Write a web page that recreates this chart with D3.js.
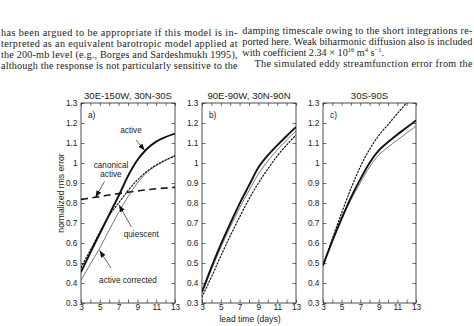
<!DOCTYPE html>
<html><head><meta charset="utf-8">
<script src="https://cdn.jsdelivr.net/npm/d3@7"></script>
<style>body{margin:0;background:#fff}svg{display:block}</style>
</head><body><svg id="c" width="474" height="326"></svg>
<script>
// ---- data ----
const days = [3,4,5,6,7,8,9,10,11,12,13];
const yTicks = [0.3,0.4,0.5,0.6,0.7,0.8,0.9,1,1.1,1.2,1.3];
const xTickLabels = [3,5,7,9,11,13];

const aActive    = [0.455,0.552,0.647,0.742,0.835,0.935,1.015,1.07,1.107,1.13,1.147];
const aCanonical = [0.818,0.825,0.832,0.840,0.847,0.854,0.860,0.866,0.871,0.875,0.878];
const aQuiescent = [0.478,0.565,0.655,0.738,0.800,0.862,0.915,0.958,0.990,1.015,1.035];
const aCorrected = [0.413,0.495,0.575,0.665,0.752,0.832,0.900,0.952,0.987,1.013,1.038];

const bActive    = [0.355,0.478,0.593,0.697,0.797,0.888,0.977,1.038,1.088,1.135,1.18];
const bCorrected = [0.350,0.466,0.578,0.680,0.775,0.862,0.945,1.010,1.065,1.115,1.160];
const bQuiescent = [0.330,0.430,0.535,0.635,0.730,0.820,0.900,0.970,1.035,1.090,1.140];

const cActive    = [0.488,0.610,0.723,0.827,0.918,1.000,1.063,1.105,1.143,1.177,1.213];
const cCorrected = [0.485,0.605,0.715,0.815,0.900,0.980,1.040,1.080,1.115,1.150,1.185];
const cQuiescent = [0.488,0.621,0.750,0.872,0.980,1.068,1.138,1.192,1.248,1.302,1.358];

const panelTitles = ["30E-150W, 30N-30S","90E-90W, 30N-90N","30S-90S"];
const panelLetters = ["a)","b)","c)"];

const annotations = [
  {lines:["active"], day:8.32, val:1.165, from:[8.85,1.115], to:[9.78,1.062]},
  {lines:["canonical","active"], day:6.19, val:0.99, from:[5.5,0.9075], to:[4.54,0.8275]},
  {lines:["quiescent"], day:9.41, val:0.645, from:[8.37,0.68], to:[7.04,0.79]},
  {lines:["active corrected"], day:8.0, val:0.4175, from:[6.19,0.475], to:[4.97,0.5625]}
];

const paraLeft = [
  "has been argued to be appropriate if this model is in-",
  "terpreted as an equivalent barotropic model applied at",
  "the 200-mb level (e.g., Borges and Sardeshmukh 1995),",
  "although the response is not particularly sensitive to the"
];
const paraRight = [
  "damping timescale owing to the short integrations re-",
  "ported here. Weak biharmonic diffusion also is included"
];

// ---- styles ----
const styles = {
  active:    {w:1.9, c:"#111", dash:null},
  canonical: {w:1.6, c:"#111", dash:"7,4.5"},
  quiescent: {w:1.2, c:"#111", dash:"1.3,2"},
  corrected: {w:0.8, c:"#555", dash:null}
};

const panels = [
  {x0:81, x1:175, series:[["canonical",aCanonical],["corrected",aCorrected],["quiescent",aQuiescent],["active",aActive]]},
  {x0:202, x1:296, series:[["corrected",bCorrected],["quiescent",bQuiescent],["active",bActive]]},
  {x0:323, x1:416, series:[["corrected",cCorrected],["quiescent",cQuiescent],["active",cActive]]}
];
const yTop = 103, yBot = 303;

const svg = d3.select("#c");
svg.append("rect").attr("width",474).attr("height",326).attr("fill","#fff");

const defs = svg.append("defs");
defs.append("marker").attr("id","arr").attr("viewBox","0 0 8 6")
  .attr("refX",8).attr("refY",3).attr("markerWidth",7).attr("markerHeight",5.5)
  .attr("markerUnits","userSpaceOnUse").attr("orient","auto")
  .append("path").attr("d","M0,0L8,3L0,6Z").attr("fill","#111");

// ---- paragraph text ----
const serif = "'Liberation Serif','Times New Roman',serif";
const tL = svg.append("g").attr("font-family",serif).attr("font-size",10.2).attr("fill","#222");
paraLeft.forEach((s,i)=>{
  tL.append("text").attr("x",1).attr("y",35.5+i*11).attr("textLength",236.5)
    .attr("lengthAdjust","spacing").text(s);
});
paraRight.forEach((s,i)=>{
  tL.append("text").attr("x",242.3).attr("y",34+i*11).attr("textLength",230)
    .attr("lengthAdjust","spacing").text(s);
});
{
  const t = tL.append("text").attr("x",242.3).attr("y",56);
  t.append("tspan").text("with coefficient 2.34 \u00d7 10");
  t.append("tspan").attr("font-size",6.5).attr("dy",-4).text("16");
  t.append("tspan").attr("dy",4).text(" m");
  t.append("tspan").attr("font-size",6.5).attr("dy",-4).text("4");
  t.append("tspan").attr("dy",4).text(" s");
  t.append("tspan").attr("font-size",6.5).attr("dy",-4).text("\u22121");
  t.append("tspan").attr("dy",4).text(".");
}
tL.append("text").attr("x",254.5).attr("y",67).attr("textLength",218)
  .attr("lengthAdjust","spacing").text("The simulated eddy streamfunction error from the");

// ---- panels ----
const sans = "'Liberation Sans',Arial,Helvetica,sans-serif";
const y = d3.scaleLinear().domain([0.3,1.3]).range([yBot,yTop]);

panels.forEach((p,pi)=>{
  const x = d3.scaleLinear().domain([3,13]).range([p.x0,p.x1]);
  const g = svg.append("g").attr("font-family",sans).attr("fill","#111");
  const clipId = "clip"+pi;
  defs.append("clipPath").attr("id",clipId).append("rect")
    .attr("x",p.x0).attr("y",yTop).attr("width",p.x1-p.x0).attr("height",yBot-yTop);

  // axes
  const fmtY = d => d===1 ? "1" : d3.format(".1f")(d);
  const ax = [
    g.append("g").attr("transform",`translate(0,${yBot})`)
      .call(d3.axisBottom(x).tickValues(days).tickSize(-3.5).tickPadding(1.5)
        .tickFormat(d => xTickLabels.includes(d) ? d : "")),
    g.append("g").attr("transform",`translate(0,${yTop})`)
      .call(d3.axisTop(x).tickValues(days).tickSize(-3).tickFormat("")),
    g.append("g").attr("transform",`translate(${p.x0},0)`)
      .call(d3.axisLeft(y).tickValues(yTicks).tickSize(-3.5).tickPadding(3.5).tickFormat(fmtY)),
    g.append("g").attr("transform",`translate(${p.x1},0)`)
      .call(d3.axisRight(y).tickValues(yTicks).tickSize(-3.5).tickFormat(""))
  ];
  ax.forEach(a=>{
    a.select(".domain").remove();
    a.selectAll("line").attr("stroke","#333").attr("stroke-width",0.7);
    a.selectAll("text").attr("font-family",sans).attr("font-size",8.3).attr("fill","#222");
  });
  g.append("rect").attr("x",p.x0).attr("y",yTop).attr("width",p.x1-p.x0).attr("height",yBot-yTop)
    .attr("fill","none").attr("stroke","#222").attr("stroke-width",0.8);

  // title + letter
  g.append("text").attr("x",(p.x0+p.x1)/2).attr("y",98.5).attr("text-anchor","middle")
    .attr("font-size",9.6).attr("fill","#222").text(panelTitles[pi]);
  g.append("text").attr("x",p.x0+7).attr("y",117.5).attr("font-size",8.3).attr("fill","#222").text(panelLetters[pi]);

  // lines
  const line = d3.line().x((d,i)=>x(days[i])).y(d=>y(d)).curve(d3.curveMonotoneX);
  const lg = g.append("g").attr("clip-path",`url(#${clipId})`);
  p.series.forEach(([k,vals])=>{
    const s = styles[k];
    lg.append("path").attr("d",line(vals)).attr("fill","none")
      .attr("stroke",s.c).attr("stroke-width",s.w)
      .attr("stroke-dasharray",s.dash).attr("stroke-linecap",k==="quiescent"?"round":"butt");
  });

  if(pi===0){
    annotations.forEach(a=>{
      const t = g.append("text").attr("text-anchor","middle").attr("font-size",8.2).attr("fill","#222");
      a.lines.forEach((ln,li)=>{
        t.append("tspan").attr("x",x(a.day)).attr("y",y(a.val)+3+li*9).text(ln);
      });
      g.append("line").attr("x1",x(a.from[0])).attr("y1",y(a.from[1]))
        .attr("x2",x(a.to[0])).attr("y2",y(a.to[1]))
        .attr("stroke","#222").attr("stroke-width",0.7).attr("marker-end","url(#arr)");
    });
  }
});

// axis titles
svg.append("text").attr("transform","translate(64,193) rotate(-90)").attr("text-anchor","middle")
  .attr("font-family",sans).attr("font-size",8.6).attr("fill","#222").text("normalized rms error");
svg.append("text").attr("x",250).attr("y",322).attr("text-anchor","middle")
  .attr("font-family",sans).attr("font-size",8.6).attr("fill","#222").text("lead time (days)");
</script></body></html>
